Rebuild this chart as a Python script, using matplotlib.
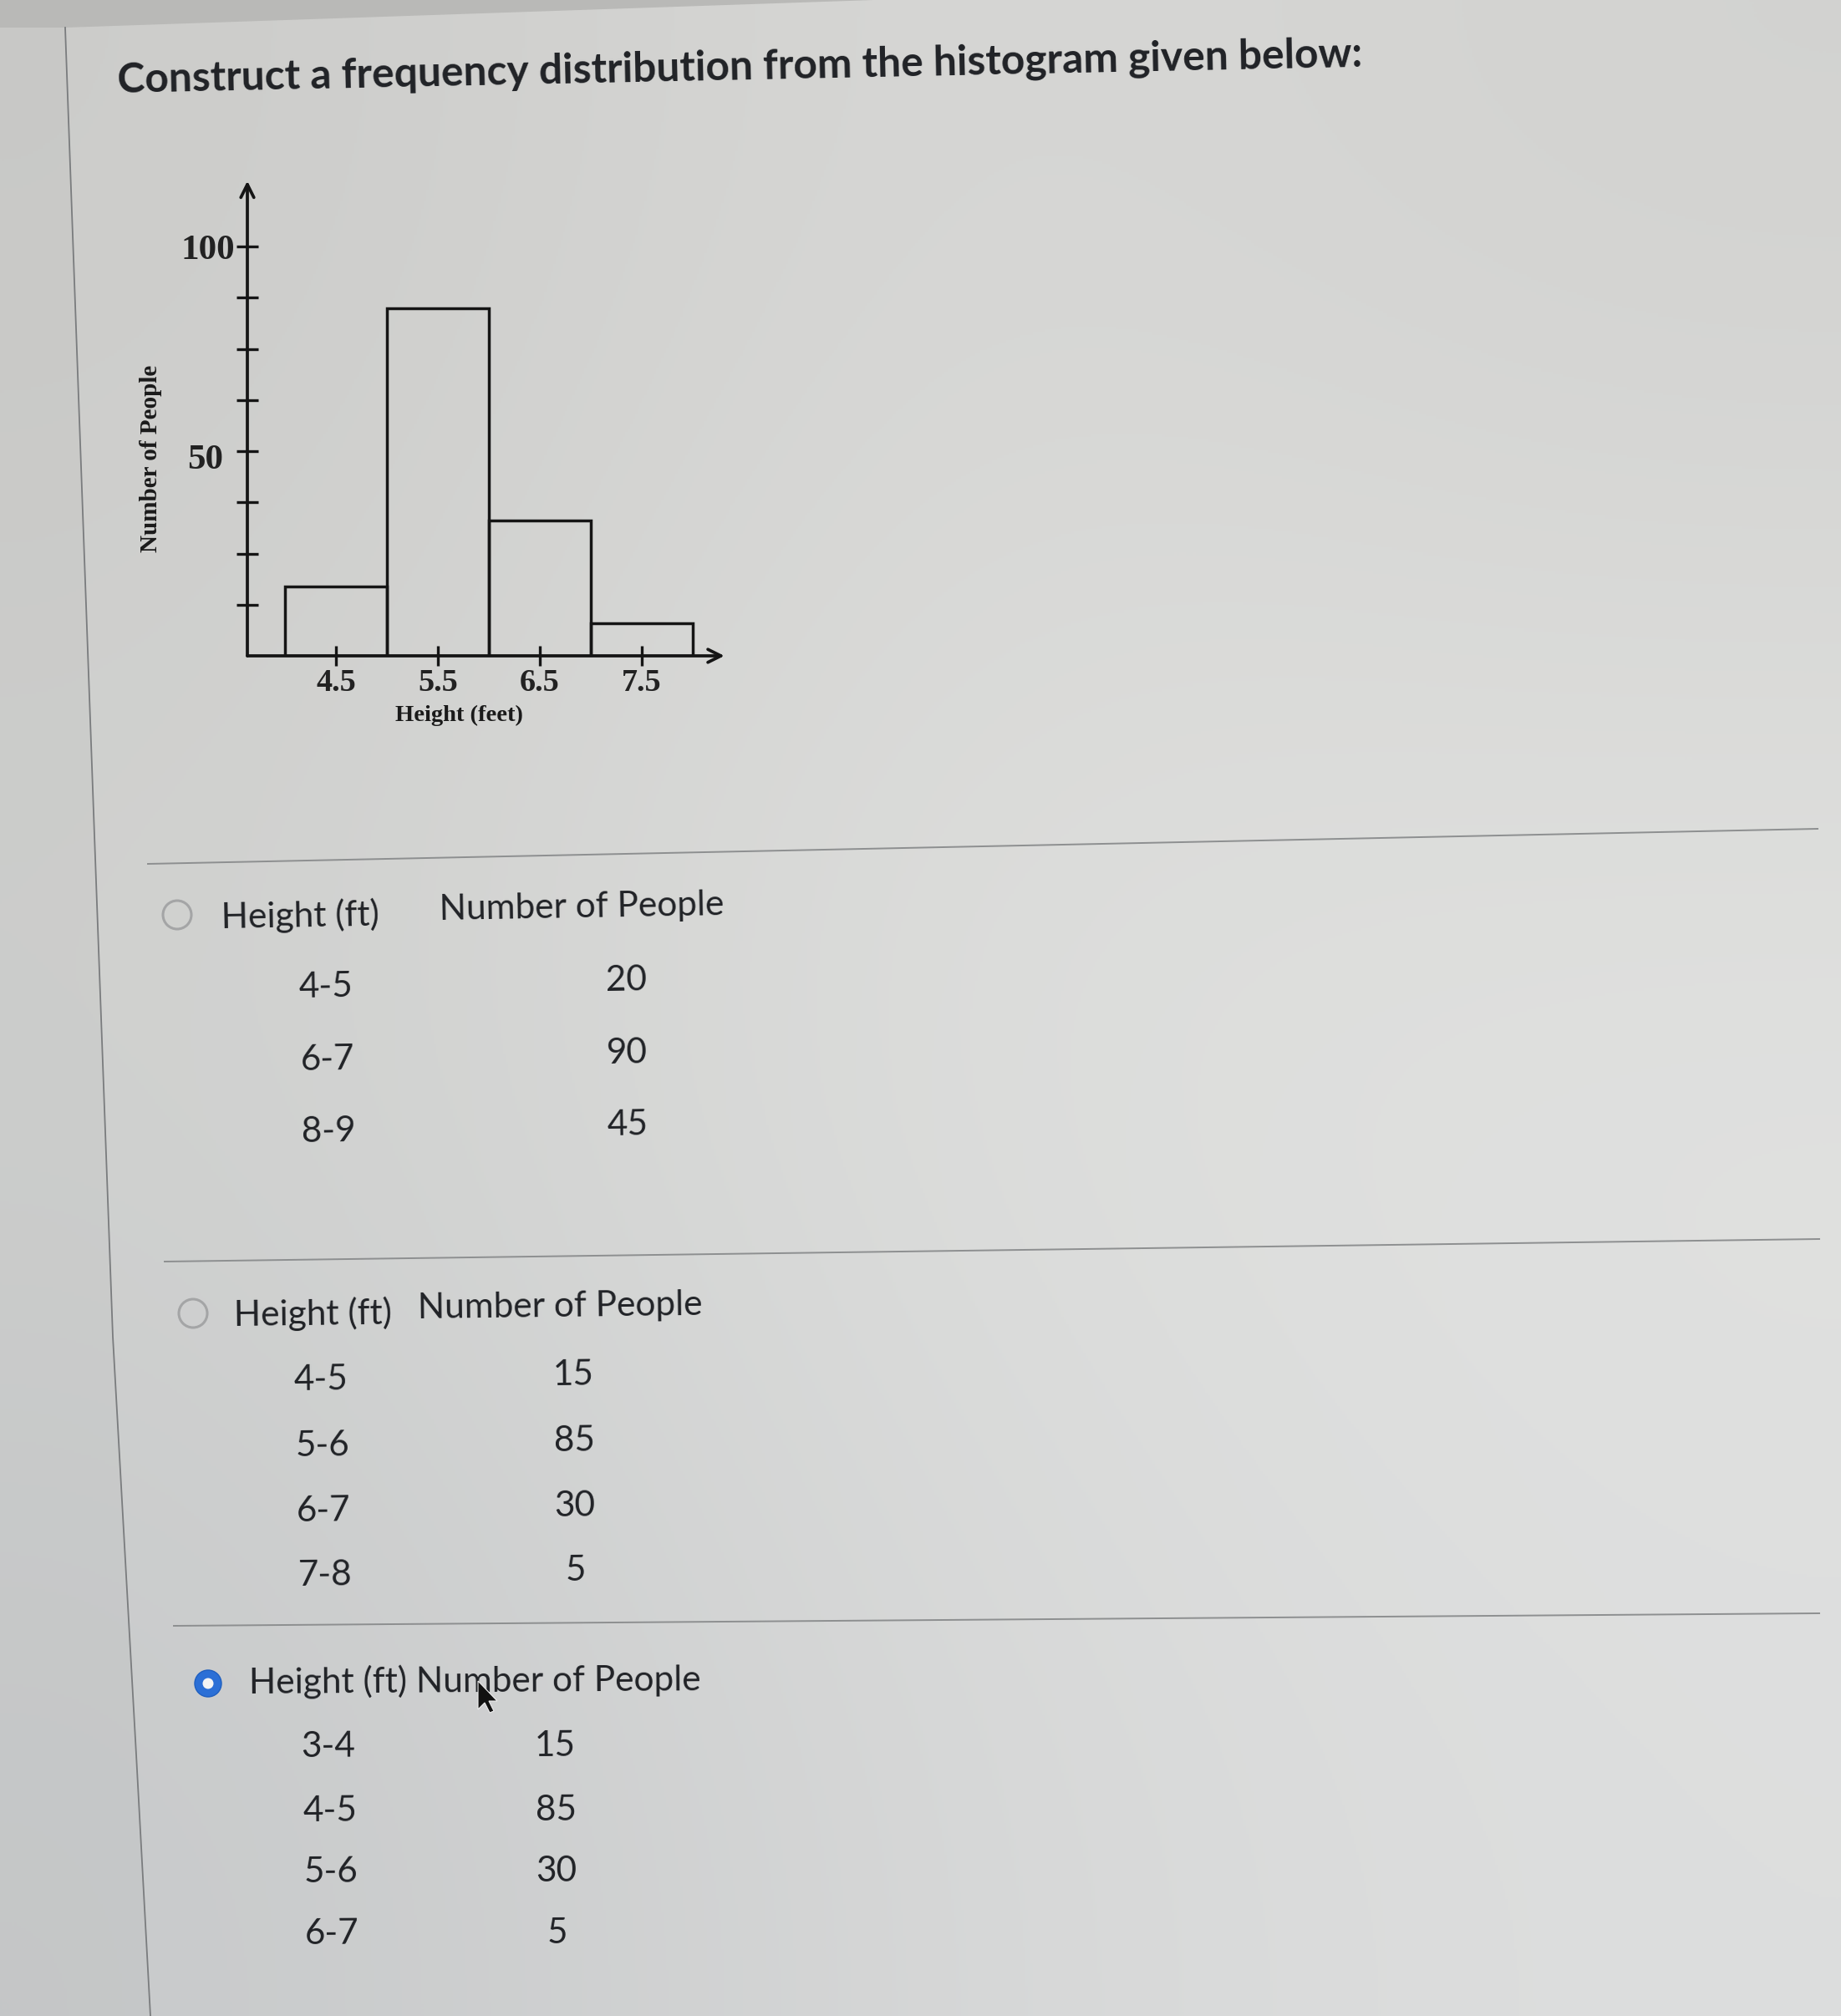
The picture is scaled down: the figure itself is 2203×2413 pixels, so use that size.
import numpy as np
import matplotlib.pyplot as plt
from matplotlib.patches import Circle, Polygon
from matplotlib.lines import Line2D
from matplotlib.transforms import ScaledTranslation

W, H = 2203, 2413

# histogram values
bin_left = [4, 5, 6, 7]
counts = [17, 85, 33, 8]
x_ticks = [4.5, 5.5, 6.5, 7.5]
x_ticklabels = ['4.5', '5.5', '6.5', '7.5']
y_ticks = [12.5, 25, 37.5, 50, 62.5, 75, 87.5, 100]
y_ticklabels = ['', '', '', '50', '', '', '', '100']

title = 'Construct a frequency distribution from the histogram given below:'
header_h = 'Height (ft)'
header_n = 'Number of People'

opt1_ranges = ['4-5', '6-7', '8-9']
opt1_counts = ['20', '90', '45']
opt2_ranges = ['4-5', '5-6', '6-7', '7-8']
opt2_counts = ['15', '85', '30', '5']
opt3_ranges = ['3-4', '4-5', '5-6', '6-7']
opt3_counts = ['15', '85', '30', '5']

plt.rcParams['font.family'] = ['Lato', 'DejaVu Sans']
TXT = '#202226'
SERIF = ['Liberation Serif', 'DejaVu Serif']
FS = 30.5

fig = plt.figure(figsize=(W / 100, H / 100), dpi=100)

# page layer, drawn in pixel units
page = fig.add_axes([0, 0, 1, 1])
page.set_xlim(0, W)
page.set_ylim(H, 0)
page.axis('off')

grid = np.array([
    [[204, 204, 202], [216, 216, 214], [210, 210, 208]],
    [[210, 211, 209], [223, 224, 222], [226, 227, 225]],
    [[200, 202, 203], [214, 215, 215], [221, 222, 222]],
]) / 255.0
page.imshow(grid, extent=[0, W, H, 0], interpolation='bicubic', aspect='auto', zorder=0)

# left panel and top band of the screen
edge = [(78, 33), (113, 1000), (135, 1600), (163, 2100), (180, 2413)]
page.add_patch(Polygon([(0, 33)] + edge + [(0, H)], closed=True,
                       facecolor='#9a9a98', alpha=0.07, edgecolor='none', zorder=1))
page.add_patch(Polygon([(0, 0), (1045, 0), (78, 33), (0, 33)], closed=True,
                       facecolor='#b9b9b7', edgecolor='none', zorder=1))
page.add_line(Line2D([p[0] for p in edge], [p[1] for p in edge], color='#7a7c7e', lw=1.3, zorder=2))

# title
page.text(141, 96, title, fontsize=35.8, fontweight='bold', color=TXT, ha='left', va='center',
          rotation=1.2, rotation_mode='anchor', zorder=3)

# separators between answers
for (x0, y0), (x1, y1) in [((177, 1034), (2175, 992)), ((197, 1510), (2177, 1483)), ((208, 1946), (2177, 1931))]:
    page.add_line(Line2D([x0, x1], [y0, y1], color='#8d8f90', lw=1.4, zorder=2))


def option(radio, hh, hn, ranges, nums, rx, nx, rows, dy, rot, selected=False):
    if selected:
        page.add_patch(Circle(radio, 16, facecolor='#2b6fd6', edgecolor='#1f5fc0', lw=1, zorder=3))
        page.add_patch(Circle(radio, 6.5, facecolor='#f4f4f4', edgecolor='none', zorder=4))
    else:
        page.add_patch(Circle(radio, 17, facecolor='none', edgecolor='#a4a5a6', lw=2.2, zorder=3))
    if hn is None:
        page.text(hh[0], hh[1], header_h + ' ' + header_n, fontsize=FS, color=TXT, ha='left', va='center',
                  rotation=rot, rotation_mode='anchor', zorder=3)
    else:
        page.text(hh[0], hh[1], header_h, fontsize=FS, color=TXT, ha='left', va='center',
                  rotation=rot, rotation_mode='anchor', zorder=3)
        page.text(hn[0], hn[1], header_n, fontsize=FS, color=TXT, ha='left', va='center',
                  rotation=rot, rotation_mode='anchor', zorder=3)
    for i, (r, n) in enumerate(zip(ranges, nums)):
        page.text(rx + 1.5 * i, rows[i], r, fontsize=FS, color=TXT, ha='center', va='center',
                  rotation=rot, rotation_mode='anchor', zorder=3)
        page.text(nx + 1 * i, rows[i] + dy, n, fontsize=FS, color=TXT, ha='center', va='center',
                  rotation=rot, rotation_mode='anchor', zorder=3)


option((212, 1095), (265, 1098), (526, 1089), opt1_ranges, opt1_counts,
       390, 749, [1181, 1268, 1354], -7, 1.0)
option((231, 1572), (280, 1574), (500, 1566), opt2_ranges, opt2_counts,
       384, 686, [1652, 1731, 1809, 1886], -6, 0.7)
option((249, 2015), (298, 2014), None, opt3_ranges, opt3_counts,
       393, 664, [2091, 2168, 2241, 2315], -1, 0.4, selected=True)

# mouse pointer
tip = (572, 2012)
cur = [(0, 0), (0, 34), (8, 26), (14, 38), (19, 36), (13, 24), (23, 24)]
page.add_patch(Polygon([(tip[0] + a, tip[1] + b) for a, b in cur], closed=True,
                       facecolor='#111111', edgecolor='#eeeeee', lw=0.8, zorder=5))

# histogram
px_x, px_y = 122.0, 4.9
x0, y0 = 296, 785
aw, ah = 575, 575
ax = fig.add_axes([x0 / W, 1 - y0 / H, aw / W, ah / H])
ax.patch.set_alpha(0)
ax.set_xlim(4 - 45 / px_x, 4 - 45 / px_x + aw / px_x)
ax.set_ylim(0, ah / px_y)
for s in ax.spines.values():
    s.set_visible(False)
xa = ax.get_xlim()[0]

ax.bar(bin_left, counts, width=1, align='edge', facecolor='none', edgecolor='#151515', linewidth=2.5, zorder=3)
ax.annotate('', xy=(8.31, 0), xytext=(xa, 0), annotation_clip=False,
            arrowprops=dict(arrowstyle='->', lw=2.7, color='#151515', mutation_scale=28, shrinkA=0, shrinkB=0))
ax.annotate('', xy=(xa, 116), xytext=(xa, 0), annotation_clip=False,
            arrowprops=dict(arrowstyle='->', lw=2.7, color='#151515', mutation_scale=28, shrinkA=0, shrinkB=0))

ax.set_yticks(y_ticks)
ax.set_yticklabels(y_ticklabels, fontfamily=SERIF, fontsize=31, fontweight='bold', color='#222222')
ax.set_xticks(x_ticks)
ax.set_xticklabels(x_ticklabels, fontfamily=SERIF, fontsize=27.5, fontweight='bold', color='#222222')
ax.tick_params(axis='y', direction='inout', length=19, width=2.4, pad=1, color='#151515')
ax.tick_params(axis='x', direction='inout', length=17, width=2.4, pad=2, color='#151515')
for lab in ax.get_yticklabels():
    if lab.get_text() == '50':
        lab.set_transform(lab.get_transform() + ScaledTranslation(-10 / 72, -5 / 72, fig.dpi_scale_trans))

ax.set_xlabel('Height (feet)', fontfamily=SERIF, fontsize=20.5, fontweight='bold', color='#1a1a1a', va='center')
ax.xaxis.set_label_coords(0.44, -0.125)
ax.set_ylabel('Number of People', fontfamily=SERIF, fontsize=21, fontweight='bold', color='#1a1a1a', va='center')
ax.yaxis.set_label_coords(-0.20, 0.41)

fig.savefig('out.png', dpi=100)
